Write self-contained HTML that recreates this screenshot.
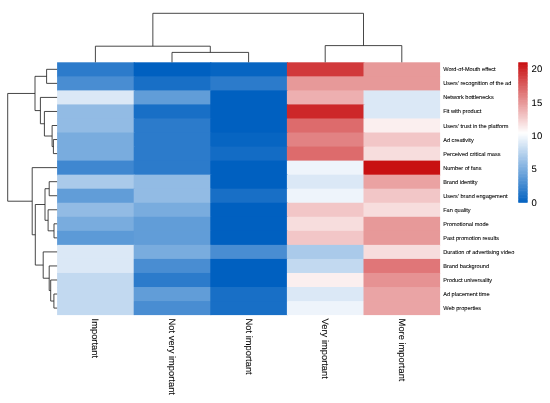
<!DOCTYPE html>
<html><head><meta charset="utf-8"><title>Heatmap</title>
<style>html,body{margin:0;padding:0;background:#fff}svg{display:block}text{text-rendering:geometricPrecision}</style></head>
<body>
<svg width="550" height="403" viewBox="0 0 550 403">
<rect width="550" height="403" fill="#fff"/>
<g shape-rendering="auto">
<rect x="57.10" y="62.30" width="77.60" height="15.04" fill="#2c7bcb"/>
<rect x="133.70" y="62.30" width="77.60" height="15.04" fill="#0060c0"/>
<rect x="210.30" y="62.30" width="77.60" height="15.04" fill="#0765c2"/>
<rect x="286.90" y="62.30" width="77.60" height="15.04" fill="#d1393b"/>
<rect x="363.50" y="62.30" width="76.60" height="15.04" fill="#e79999"/>
<rect x="57.10" y="76.34" width="77.60" height="15.04" fill="#498dd2"/>
<rect x="133.70" y="76.34" width="77.60" height="15.04" fill="#186fc6"/>
<rect x="210.30" y="76.34" width="77.60" height="15.04" fill="#2c7bcb"/>
<rect x="286.90" y="76.34" width="77.60" height="15.04" fill="#e79999"/>
<rect x="363.50" y="76.34" width="76.60" height="15.04" fill="#e79999"/>
<rect x="57.10" y="90.39" width="77.60" height="15.04" fill="#dbe8f6"/>
<rect x="133.70" y="90.39" width="77.60" height="15.04" fill="#619dd8"/>
<rect x="210.30" y="90.39" width="77.60" height="15.04" fill="#0060c0"/>
<rect x="286.90" y="90.39" width="77.60" height="15.04" fill="#edafb0"/>
<rect x="363.50" y="90.39" width="76.60" height="15.04" fill="#dbe8f6"/>
<rect x="57.10" y="104.43" width="77.60" height="15.04" fill="#92bbe4"/>
<rect x="133.70" y="104.43" width="77.60" height="15.04" fill="#186fc6"/>
<rect x="210.30" y="104.43" width="77.60" height="15.04" fill="#0060c0"/>
<rect x="286.90" y="104.43" width="77.60" height="15.04" fill="#cd2729"/>
<rect x="363.50" y="104.43" width="76.60" height="15.04" fill="#dbe8f6"/>
<rect x="57.10" y="118.48" width="77.60" height="15.04" fill="#92bbe4"/>
<rect x="133.70" y="118.48" width="77.60" height="15.04" fill="#2c7bcb"/>
<rect x="210.30" y="118.48" width="77.60" height="15.04" fill="#0060c0"/>
<rect x="286.90" y="118.48" width="77.60" height="15.04" fill="#dd6b6c"/>
<rect x="363.50" y="118.48" width="76.60" height="15.04" fill="#fbefef"/>
<rect x="57.10" y="132.52" width="77.60" height="15.04" fill="#79acde"/>
<rect x="133.70" y="132.52" width="77.60" height="15.04" fill="#2c7bcb"/>
<rect x="210.30" y="132.52" width="77.60" height="15.04" fill="#0765c2"/>
<rect x="286.90" y="132.52" width="77.60" height="15.04" fill="#e28283"/>
<rect x="363.50" y="132.52" width="76.60" height="15.04" fill="#f2c6c7"/>
<rect x="57.10" y="146.57" width="77.60" height="15.04" fill="#79acde"/>
<rect x="133.70" y="146.57" width="77.60" height="15.04" fill="#2c7bcb"/>
<rect x="210.30" y="146.57" width="77.60" height="15.04" fill="#136cc5"/>
<rect x="286.90" y="146.57" width="77.60" height="15.04" fill="#dd6b6c"/>
<rect x="363.50" y="146.57" width="76.60" height="15.04" fill="#f7dddd"/>
<rect x="57.10" y="160.61" width="77.60" height="15.04" fill="#3f87d0"/>
<rect x="133.70" y="160.61" width="77.60" height="15.04" fill="#2c7bcb"/>
<rect x="210.30" y="160.61" width="77.60" height="15.04" fill="#0060c0"/>
<rect x="286.90" y="160.61" width="77.60" height="15.04" fill="#eef4fb"/>
<rect x="363.50" y="160.61" width="76.60" height="15.04" fill="#c81012"/>
<rect x="57.10" y="174.66" width="77.60" height="15.04" fill="#aacaea"/>
<rect x="133.70" y="174.66" width="77.60" height="15.04" fill="#92bbe4"/>
<rect x="210.30" y="174.66" width="77.60" height="15.04" fill="#0060c0"/>
<rect x="286.90" y="174.66" width="77.60" height="15.04" fill="#dbe8f6"/>
<rect x="363.50" y="174.66" width="76.60" height="15.04" fill="#eaa2a2"/>
<rect x="57.10" y="188.70" width="77.60" height="15.04" fill="#619dd8"/>
<rect x="133.70" y="188.70" width="77.60" height="15.04" fill="#92bbe4"/>
<rect x="210.30" y="188.70" width="77.60" height="15.04" fill="#186fc6"/>
<rect x="286.90" y="188.70" width="77.60" height="15.04" fill="#eef4fb"/>
<rect x="363.50" y="188.70" width="76.60" height="15.04" fill="#f2c6c7"/>
<rect x="57.10" y="202.74" width="77.60" height="15.04" fill="#92bbe4"/>
<rect x="133.70" y="202.74" width="77.60" height="15.04" fill="#79acde"/>
<rect x="210.30" y="202.74" width="77.60" height="15.04" fill="#0060c0"/>
<rect x="286.90" y="202.74" width="77.60" height="15.04" fill="#f2c6c7"/>
<rect x="363.50" y="202.74" width="76.60" height="15.04" fill="#f7dddd"/>
<rect x="57.10" y="216.79" width="77.60" height="15.04" fill="#79acde"/>
<rect x="133.70" y="216.79" width="77.60" height="15.04" fill="#619dd8"/>
<rect x="210.30" y="216.79" width="77.60" height="15.04" fill="#0060c0"/>
<rect x="286.90" y="216.79" width="77.60" height="15.04" fill="#f7dddd"/>
<rect x="363.50" y="216.79" width="76.60" height="15.04" fill="#e79999"/>
<rect x="57.10" y="230.83" width="77.60" height="15.04" fill="#5c9ad7"/>
<rect x="133.70" y="230.83" width="77.60" height="15.04" fill="#619dd8"/>
<rect x="210.30" y="230.83" width="77.60" height="15.04" fill="#0060c0"/>
<rect x="286.90" y="230.83" width="77.60" height="15.04" fill="#f2c6c7"/>
<rect x="363.50" y="230.83" width="76.60" height="15.04" fill="#e79999"/>
<rect x="57.10" y="244.88" width="77.60" height="15.04" fill="#dbe8f6"/>
<rect x="133.70" y="244.88" width="77.60" height="15.04" fill="#79acde"/>
<rect x="210.30" y="244.88" width="77.60" height="15.04" fill="#498dd2"/>
<rect x="286.90" y="244.88" width="77.60" height="15.04" fill="#aacaea"/>
<rect x="363.50" y="244.88" width="76.60" height="15.04" fill="#f7dddd"/>
<rect x="57.10" y="258.92" width="77.60" height="15.04" fill="#dbe8f6"/>
<rect x="133.70" y="258.92" width="77.60" height="15.04" fill="#498dd2"/>
<rect x="210.30" y="258.92" width="77.60" height="15.04" fill="#0060c0"/>
<rect x="286.90" y="258.92" width="77.60" height="15.04" fill="#c2d9f0"/>
<rect x="363.50" y="258.92" width="76.60" height="15.04" fill="#e07678"/>
<rect x="57.10" y="272.97" width="77.60" height="15.04" fill="#c2d9f0"/>
<rect x="133.70" y="272.97" width="77.60" height="15.04" fill="#2c7bcb"/>
<rect x="210.30" y="272.97" width="77.60" height="15.04" fill="#0060c0"/>
<rect x="286.90" y="272.97" width="77.60" height="15.04" fill="#fbefef"/>
<rect x="363.50" y="272.97" width="76.60" height="15.04" fill="#e69293"/>
<rect x="57.10" y="287.01" width="77.60" height="15.04" fill="#c2d9f0"/>
<rect x="133.70" y="287.01" width="77.60" height="15.04" fill="#619dd8"/>
<rect x="210.30" y="287.01" width="77.60" height="15.04" fill="#186fc6"/>
<rect x="286.90" y="287.01" width="77.60" height="15.04" fill="#dbe8f6"/>
<rect x="363.50" y="287.01" width="76.60" height="15.04" fill="#eaa4a5"/>
<rect x="57.10" y="301.06" width="77.60" height="14.04" fill="#c2d9f0"/>
<rect x="133.70" y="301.06" width="77.60" height="14.04" fill="#498dd2"/>
<rect x="210.30" y="301.06" width="77.60" height="14.04" fill="#186fc6"/>
<rect x="286.90" y="301.06" width="77.60" height="14.04" fill="#eef4fb"/>
<rect x="363.50" y="301.06" width="76.60" height="14.04" fill="#eaa4a5"/>
</g>
<path d="M57.10 69.32H46.60V83.37H57.10M57.10 139.54H53.40V153.59H57.10M57.10 125.50H52.10V146.57H53.40M57.10 111.46H44.40V136.03H52.10M57.10 97.41H40.40V123.74H44.40M46.60 76.34H35.00V110.58H40.40M57.10 181.68H49.20V195.72H57.10M57.10 223.81H54.00V237.86H57.10M57.10 209.77H48.10V230.83H54.00M49.20 188.70H45.00V220.30H48.10M57.10 294.03H53.90V308.08H57.10M57.10 279.99H50.70V301.06H53.90M57.10 265.94H49.20V290.52H50.70M57.10 251.90H43.20V278.23H49.20M45.00 204.50H35.30V265.07H43.20M57.10 167.63H32.20V234.78H35.30M35.00 93.46H7.70V201.21H32.20M172.00 62.30V52.40H248.60V62.30M95.40 62.30V46.20H210.30V52.40M325.20 62.30V45.60H401.80V62.30M152.85 46.20V13.30H363.50V45.60" stroke="#262626" stroke-width="0.85" fill="none" stroke-linecap="butt" stroke-linejoin="miter"/>
<g font-family="Liberation Sans, Arial, sans-serif" font-size="5.62" fill="#000" stroke="#000" stroke-width="0.07">
<text x="443.2" y="71.33">Word-of-Mouth effect</text>
<text x="443.2" y="85.38">Users' recognition of the ad</text>
<text x="443.2" y="99.42">Network bottlenecks</text>
<text x="443.2" y="113.47">Fit with product</text>
<text x="443.2" y="127.51">Users' trust in the platform</text>
<text x="443.2" y="141.56">Ad creativity</text>
<text x="443.2" y="155.60">Perceived critical mass</text>
<text x="443.2" y="169.65">Number of fans</text>
<text x="443.2" y="183.69">Brand identity</text>
<text x="443.2" y="197.73">Users' brand engagement</text>
<text x="443.2" y="211.78">Fan quality</text>
<text x="443.2" y="225.82">Promotional mode</text>
<text x="443.2" y="239.87">Past promotion results</text>
<text x="443.2" y="253.91">Duration of advertising video</text>
<text x="443.2" y="267.96">Brand background</text>
<text x="443.2" y="282.00">Product universality</text>
<text x="443.2" y="296.05">Ad placement time</text>
<text x="443.2" y="310.09">Web properties</text>
</g>
<g font-family="Liberation Sans, Arial, sans-serif" font-size="9.35" fill="#000" stroke="#000" stroke-width="0.06">
<text transform="translate(92.45 318.6) rotate(90)">Important</text>
<text transform="translate(169.05 318.6) rotate(90)">Not very important</text>
<text transform="translate(245.65 318.6) rotate(90)">Not important</text>
<text transform="translate(322.25 318.6) rotate(90)">Very important</text>
<text transform="translate(398.85 318.6) rotate(90)">More important</text>
</g>
<rect x="518.3" y="201.395" width="9.30" height="1.406" fill="#0362c1"/>
<rect x="518.3" y="199.989" width="9.30" height="2.006" fill="#0865c2"/>
<rect x="518.3" y="198.584" width="9.30" height="2.006" fill="#0d68c3"/>
<rect x="518.3" y="197.178" width="9.30" height="2.006" fill="#126bc4"/>
<rect x="518.3" y="195.773" width="9.30" height="2.006" fill="#176ec6"/>
<rect x="518.3" y="194.367" width="9.30" height="2.006" fill="#1c71c7"/>
<rect x="518.3" y="192.962" width="9.30" height="2.006" fill="#2175c8"/>
<rect x="518.3" y="191.556" width="9.30" height="2.006" fill="#2678c9"/>
<rect x="518.3" y="190.151" width="9.30" height="2.006" fill="#2b7bcb"/>
<rect x="518.3" y="188.745" width="9.30" height="2.006" fill="#307ecc"/>
<rect x="518.3" y="187.340" width="9.30" height="2.006" fill="#3681cd"/>
<rect x="518.3" y="185.934" width="9.30" height="2.006" fill="#3b85ce"/>
<rect x="518.3" y="184.529" width="9.30" height="2.006" fill="#4088d0"/>
<rect x="518.3" y="183.123" width="9.30" height="2.006" fill="#458bd1"/>
<rect x="518.3" y="181.718" width="9.30" height="2.006" fill="#4a8ed2"/>
<rect x="518.3" y="180.312" width="9.30" height="2.006" fill="#4f91d4"/>
<rect x="518.3" y="178.906" width="9.30" height="2.006" fill="#5494d5"/>
<rect x="518.3" y="177.501" width="9.30" height="2.006" fill="#5998d6"/>
<rect x="518.3" y="176.096" width="9.30" height="2.006" fill="#5e9bd7"/>
<rect x="518.3" y="174.690" width="9.30" height="2.006" fill="#639ed9"/>
<rect x="518.3" y="173.285" width="9.30" height="2.006" fill="#69a1da"/>
<rect x="518.3" y="171.879" width="9.30" height="2.006" fill="#6ea4db"/>
<rect x="518.3" y="170.474" width="9.30" height="2.006" fill="#73a8dc"/>
<rect x="518.3" y="169.068" width="9.30" height="2.006" fill="#78abde"/>
<rect x="518.3" y="167.663" width="9.30" height="2.006" fill="#7daedf"/>
<rect x="518.3" y="166.257" width="9.30" height="2.006" fill="#82b1e0"/>
<rect x="518.3" y="164.852" width="9.30" height="2.006" fill="#87b4e1"/>
<rect x="518.3" y="163.446" width="9.30" height="2.006" fill="#8cb7e3"/>
<rect x="518.3" y="162.041" width="9.30" height="2.006" fill="#91bbe4"/>
<rect x="518.3" y="160.635" width="9.30" height="2.006" fill="#96bee5"/>
<rect x="518.3" y="159.230" width="9.30" height="2.006" fill="#9cc1e6"/>
<rect x="518.3" y="157.824" width="9.30" height="2.006" fill="#a1c4e8"/>
<rect x="518.3" y="156.418" width="9.30" height="2.006" fill="#a6c7e9"/>
<rect x="518.3" y="155.013" width="9.30" height="2.006" fill="#abcbea"/>
<rect x="518.3" y="153.608" width="9.30" height="2.006" fill="#b0ceeb"/>
<rect x="518.3" y="152.202" width="9.30" height="2.006" fill="#b5d1ed"/>
<rect x="518.3" y="150.797" width="9.30" height="2.006" fill="#bad4ee"/>
<rect x="518.3" y="149.391" width="9.30" height="2.006" fill="#bfd7ef"/>
<rect x="518.3" y="147.986" width="9.30" height="2.006" fill="#c4daf1"/>
<rect x="518.3" y="146.580" width="9.30" height="2.006" fill="#c9def2"/>
<rect x="518.3" y="145.174" width="9.30" height="2.006" fill="#cfe1f3"/>
<rect x="518.3" y="143.769" width="9.30" height="2.006" fill="#d4e4f4"/>
<rect x="518.3" y="142.363" width="9.30" height="2.006" fill="#d9e7f6"/>
<rect x="518.3" y="140.958" width="9.30" height="2.006" fill="#deeaf7"/>
<rect x="518.3" y="139.553" width="9.30" height="2.006" fill="#e3eef8"/>
<rect x="518.3" y="138.147" width="9.30" height="2.006" fill="#e8f1f9"/>
<rect x="518.3" y="136.742" width="9.30" height="2.006" fill="#edf4fb"/>
<rect x="518.3" y="135.336" width="9.30" height="2.006" fill="#f2f7fc"/>
<rect x="518.3" y="133.930" width="9.30" height="2.006" fill="#f7fafd"/>
<rect x="518.3" y="132.525" width="9.30" height="2.006" fill="#fcfdfe"/>
<rect x="518.3" y="131.120" width="9.30" height="2.006" fill="#fefdfd"/>
<rect x="518.3" y="129.714" width="9.30" height="2.006" fill="#fdf8f8"/>
<rect x="518.3" y="128.308" width="9.30" height="2.006" fill="#fcf3f3"/>
<rect x="518.3" y="126.903" width="9.30" height="2.006" fill="#fbeeee"/>
<rect x="518.3" y="125.498" width="9.30" height="2.006" fill="#fae9ea"/>
<rect x="518.3" y="124.092" width="9.30" height="2.006" fill="#f9e5e5"/>
<rect x="518.3" y="122.686" width="9.30" height="2.006" fill="#f8e0e0"/>
<rect x="518.3" y="121.281" width="9.30" height="2.006" fill="#f7dbdb"/>
<rect x="518.3" y="119.876" width="9.30" height="2.006" fill="#f6d6d7"/>
<rect x="518.3" y="118.470" width="9.30" height="2.006" fill="#f5d2d2"/>
<rect x="518.3" y="117.064" width="9.30" height="2.006" fill="#f3cdcd"/>
<rect x="518.3" y="115.659" width="9.30" height="2.006" fill="#f2c8c8"/>
<rect x="518.3" y="114.254" width="9.30" height="2.006" fill="#f1c3c4"/>
<rect x="518.3" y="112.848" width="9.30" height="2.006" fill="#f0bebf"/>
<rect x="518.3" y="111.442" width="9.30" height="2.006" fill="#efbaba"/>
<rect x="518.3" y="110.037" width="9.30" height="2.006" fill="#eeb5b6"/>
<rect x="518.3" y="108.632" width="9.30" height="2.006" fill="#edb0b1"/>
<rect x="518.3" y="107.226" width="9.30" height="2.006" fill="#ecabac"/>
<rect x="518.3" y="105.820" width="9.30" height="2.006" fill="#eba7a7"/>
<rect x="518.3" y="104.415" width="9.30" height="2.006" fill="#eaa2a3"/>
<rect x="518.3" y="103.010" width="9.30" height="2.006" fill="#e89d9e"/>
<rect x="518.3" y="101.604" width="9.30" height="2.006" fill="#e79899"/>
<rect x="518.3" y="100.198" width="9.30" height="2.006" fill="#e69394"/>
<rect x="518.3" y="98.793" width="9.30" height="2.006" fill="#e58f90"/>
<rect x="518.3" y="97.388" width="9.30" height="2.006" fill="#e48a8b"/>
<rect x="518.3" y="95.982" width="9.30" height="2.006" fill="#e38586"/>
<rect x="518.3" y="94.576" width="9.30" height="2.006" fill="#e28081"/>
<rect x="518.3" y="93.171" width="9.30" height="2.006" fill="#e17c7d"/>
<rect x="518.3" y="91.766" width="9.30" height="2.006" fill="#e07778"/>
<rect x="518.3" y="90.360" width="9.30" height="2.006" fill="#df7273"/>
<rect x="518.3" y="88.954" width="9.30" height="2.006" fill="#dd6d6e"/>
<rect x="518.3" y="87.549" width="9.30" height="2.006" fill="#dc686a"/>
<rect x="518.3" y="86.143" width="9.30" height="2.006" fill="#db6465"/>
<rect x="518.3" y="84.738" width="9.30" height="2.006" fill="#da5f60"/>
<rect x="518.3" y="83.332" width="9.30" height="2.006" fill="#d95a5b"/>
<rect x="518.3" y="81.927" width="9.30" height="2.006" fill="#d85557"/>
<rect x="518.3" y="80.521" width="9.30" height="2.006" fill="#d75152"/>
<rect x="518.3" y="79.116" width="9.30" height="2.006" fill="#d64c4d"/>
<rect x="518.3" y="77.710" width="9.30" height="2.006" fill="#d54749"/>
<rect x="518.3" y="76.305" width="9.30" height="2.006" fill="#d44244"/>
<rect x="518.3" y="74.899" width="9.30" height="2.006" fill="#d23d3f"/>
<rect x="518.3" y="73.494" width="9.30" height="2.006" fill="#d1393a"/>
<rect x="518.3" y="72.088" width="9.30" height="2.006" fill="#d03436"/>
<rect x="518.3" y="70.683" width="9.30" height="2.006" fill="#cf2f31"/>
<rect x="518.3" y="69.278" width="9.30" height="2.006" fill="#ce2a2c"/>
<rect x="518.3" y="67.872" width="9.30" height="2.006" fill="#cd2627"/>
<rect x="518.3" y="66.466" width="9.30" height="2.006" fill="#cc2123"/>
<rect x="518.3" y="65.061" width="9.30" height="2.006" fill="#cb1c1e"/>
<rect x="518.3" y="63.655" width="9.30" height="2.006" fill="#ca1719"/>
<rect x="518.3" y="62.250" width="9.30" height="2.006" fill="#c91214"/>
<g font-family="Liberation Sans, Arial, sans-serif" font-size="9.5" fill="#000" stroke="#000" stroke-width="0.06">
<text x="531.6" y="205.90">0</text>
<text x="531.6" y="172.44">5</text>
<text x="531.6" y="138.97">10</text>
<text x="531.6" y="105.51">15</text>
<text x="531.6" y="72.04">20</text>
</g>
</svg>
</body></html>
